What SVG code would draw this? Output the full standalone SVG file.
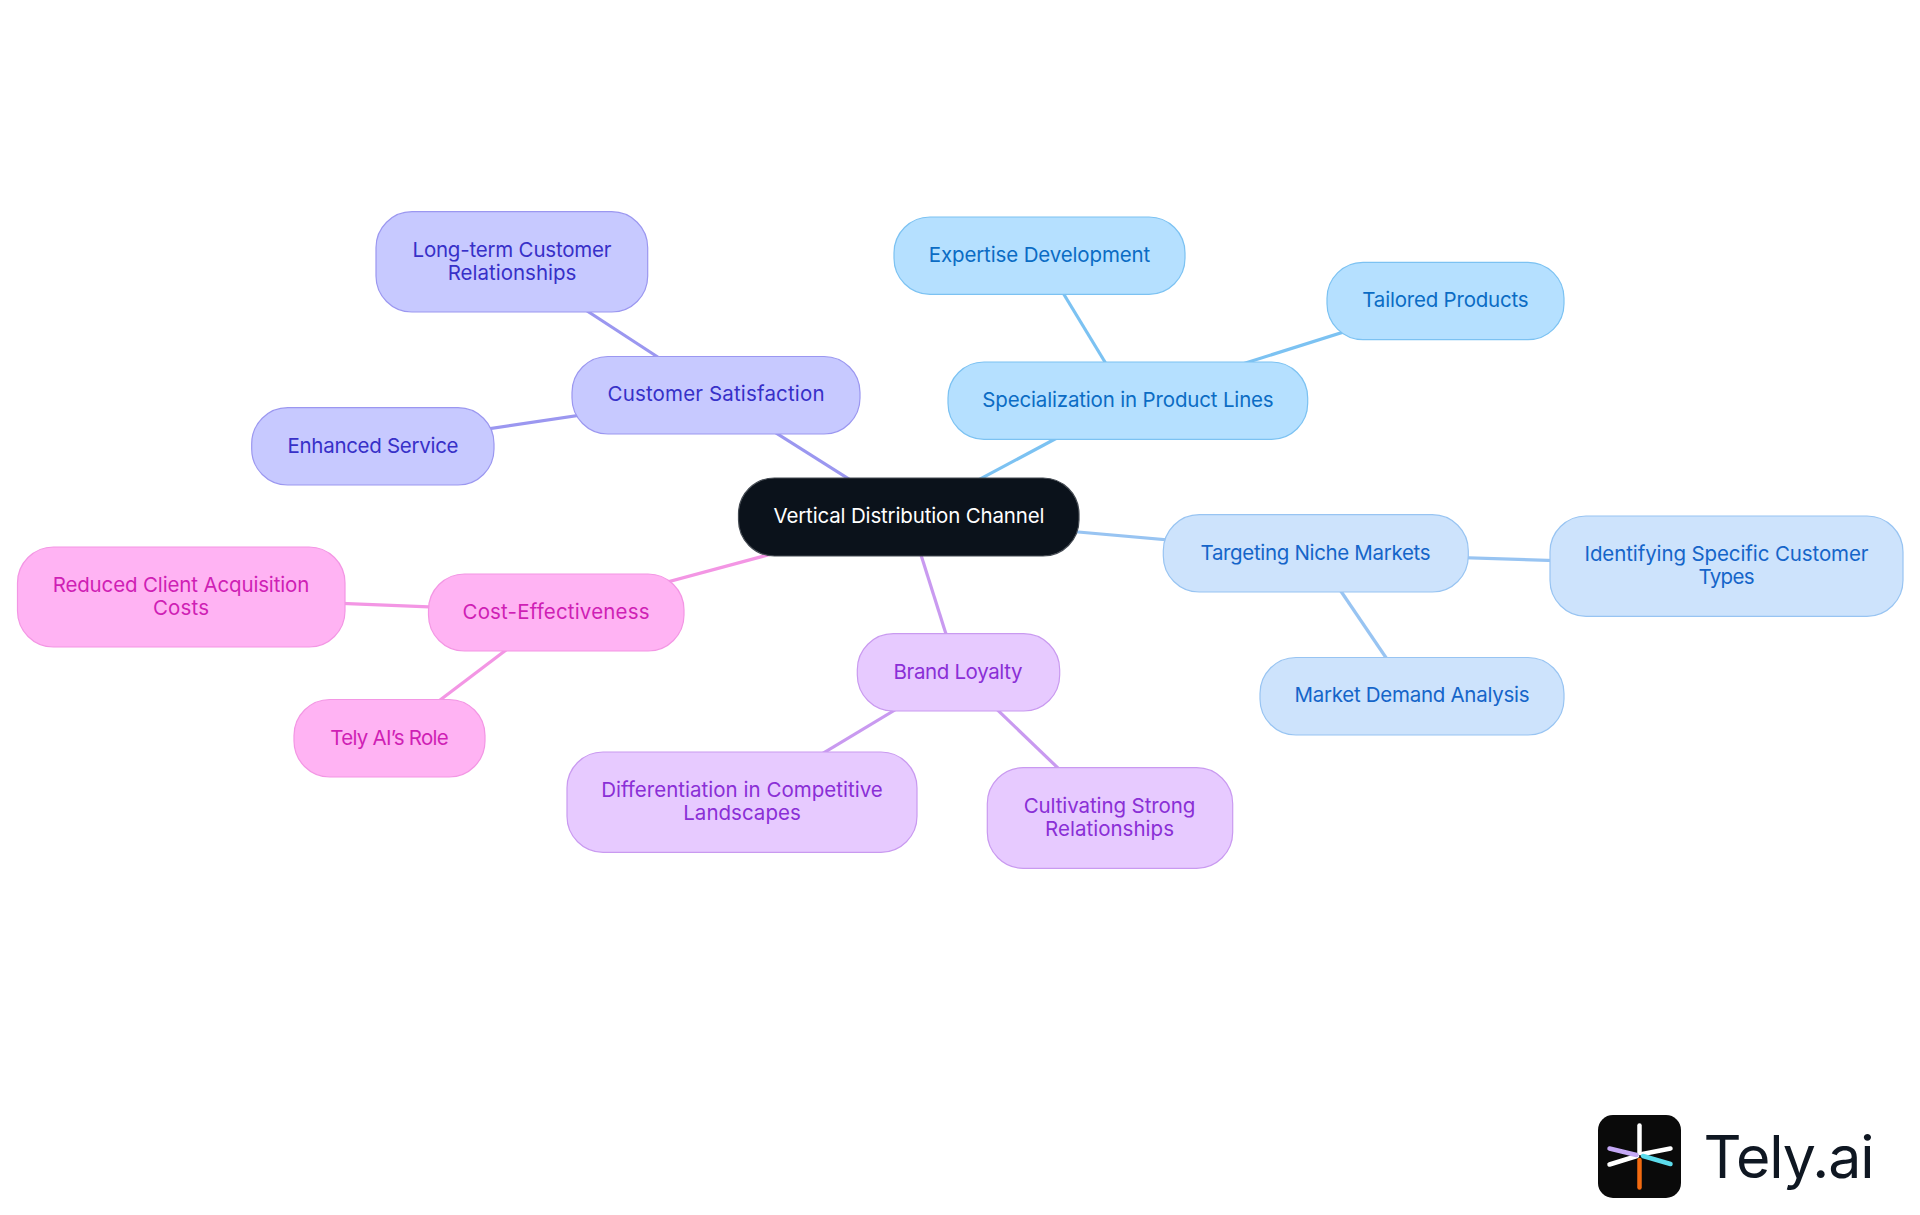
<svg xmlns="http://www.w3.org/2000/svg" width="1920" height="1215" viewBox="0 0 1920 1215">
<style>
text{font-family:"Inter","Open Sans","Liberation Sans",sans-serif;font-size:20.5px;font-weight:400;text-anchor:middle}
.n rect{stroke-width:1.2}
.c line{stroke-width:3.2;fill:none}
.a rect{fill:#c7c9ff;stroke:#9b97f0}.a text{fill:#3730c8}
.b rect{fill:#b5e0ff;stroke:#7cc2f2}.b text{fill:#0b6cc4}
.d rect{fill:#cde3fc;stroke:#98c4f2}.d text{fill:#1565c9}
.e rect{fill:#e7caff;stroke:#c99af0}.e text{fill:#8a2fd6}
.f rect{fill:#ffb3f3;stroke:#f396e4}.f text{fill:#cf1fb5}
</style>
<rect width="1920" height="1215" fill="#ffffff"/>
<g id="connectors" class="c">
<line x1="909" y1="517" x2="716" y2="395" stroke="#9b97f0"/>
<line x1="716" y1="395" x2="512" y2="262" stroke="#9b97f0"/>
<line x1="716" y1="395" x2="373" y2="446" stroke="#9b97f0"/>
<line x1="909" y1="517" x2="1128" y2="400" stroke="#7cc2f2"/>
<line x1="1128" y1="400" x2="1040" y2="255" stroke="#7cc2f2"/>
<line x1="1128" y1="400" x2="1445" y2="300" stroke="#7cc2f2"/>
<line x1="909" y1="517" x2="1315" y2="553" stroke="#98c4f2"/>
<line x1="1315" y1="553" x2="1726" y2="566" stroke="#98c4f2"/>
<line x1="1315" y1="553" x2="1412" y2="696" stroke="#98c4f2"/>
<line x1="909" y1="517" x2="958" y2="672" stroke="#c99af0"/>
<line x1="958" y1="672" x2="742" y2="802" stroke="#c99af0"/>
<line x1="958" y1="672" x2="1110" y2="818" stroke="#c99af0"/>
<line x1="909" y1="517" x2="556" y2="612" stroke="#f396e4"/>
<line x1="556" y1="612" x2="181" y2="597" stroke="#f396e4"/>
<line x1="556" y1="612" x2="390" y2="738" stroke="#f396e4"/>
</g>
<g id="central" class="n"><rect x="738.5" y="478" width="340.5" height="78" rx="36" fill="#0b121b" stroke="#444a52"/><text x="909" y="523" fill="#ffffff" textLength="271">Vertical Distribution Channel</text></g>
<g id="customer-satisfaction" class="n a"><rect x="572" y="356.500" width="288" height="77.500" rx="36"/><text x="716" y="401" textLength="217">Customer Satisfaction</text></g>
<g id="long-term" class="n a"><rect x="376" y="211.700" width="271.700" height="100.300" rx="36"/><text x="512" y="257" textLength="199">Long-term Customer</text><text x="512" y="280" textLength="128.700">Relationships</text></g>
<g id="enhanced-service" class="n a"><rect x="251.700" y="407.700" width="242.300" height="77.300" rx="36"/><text x="373" y="453" textLength="171">Enhanced Service</text></g>
<g id="specialization" class="n b"><rect x="948" y="362" width="359.700" height="77.300" rx="36"/><text x="1128" y="407" textLength="291.400">Specialization in Product Lines</text></g>
<g id="expertise" class="n b"><rect x="894" y="217" width="291" height="77.300" rx="36"/><text x="1039.500" y="262" textLength="221.600">Expertise Development</text></g>
<g id="tailored" class="n b"><rect x="1327" y="262.300" width="237" height="77.400" rx="36"/><text x="1445.500" y="307" textLength="166.300">Tailored Products</text></g>
<g id="targeting" class="n d"><rect x="1163.300" y="514.700" width="305" height="77.300" rx="36"/><text x="1315.500" y="560" textLength="230">Targeting Niche Markets</text></g>
<g id="identifying" class="n d"><rect x="1550" y="516" width="353" height="100.300" rx="36"/><text x="1726.500" y="561" textLength="284">Identifying Specific Customer</text><text x="1726.500" y="584" textLength="56">Types</text></g>
<g id="market-demand" class="n d"><rect x="1260" y="657.500" width="304" height="77.500" rx="36"/><text x="1412" y="702" textLength="235">Market Demand Analysis</text></g>
<g id="brand-loyalty" class="n e"><rect x="857.300" y="633.700" width="202.400" height="77.300" rx="36"/><text x="958" y="679" textLength="129">Brand Loyalty</text></g>
<g id="differentiation" class="n e"><rect x="567" y="752" width="350" height="100.300" rx="36"/><text x="742" y="797" textLength="281.600">Differentiation in Competitive</text><text x="742" y="820" textLength="117.500">Landscapes</text></g>
<g id="cultivating" class="n e"><rect x="987.300" y="767.700" width="245.400" height="100.600" rx="36"/><text x="1109.500" y="813" textLength="171.700">Cultivating Strong</text><text x="1109.500" y="836" textLength="129">Relationships</text></g>
<g id="cost-effectiveness" class="n f"><rect x="428.500" y="574" width="255.500" height="77" rx="36"/><text x="556" y="619" textLength="187">Cost-Effectiveness</text></g>
<g id="reduced-costs" class="n f"><rect x="17.500" y="547" width="327.500" height="100" rx="36"/><text x="181" y="592" textLength="256.700">Reduced Client Acquisition</text><text x="181" y="615" textLength="56">Costs</text></g>
<g id="tely-role" class="n f"><rect x="294" y="699.500" width="191" height="77.500" rx="36"/><text x="389.500" y="745" textLength="118.300">Tely AI’s Role</text></g>
<g id="logo">
<rect x="1598" y="1115" width="83" height="83" rx="15" fill="#0a0a0a"/>
<g fill="none" stroke-width="4.500" stroke-linecap="round">
<line x1="1639.500" y1="1125.500" x2="1639.500" y2="1153" stroke="#ffffff"/>
<line x1="1609.500" y1="1164.500" x2="1637" y2="1156" stroke="#ffffff"/>
<line x1="1642.500" y1="1154" x2="1670.500" y2="1148.500" stroke="#ffffff"/>
<line x1="1609.500" y1="1148.500" x2="1636.500" y2="1155" stroke="#c4a8f5"/>
<line x1="1643" y1="1156" x2="1670.500" y2="1164" stroke="#5cdcec"/>
<line x1="1639.500" y1="1160" x2="1639.500" y2="1187.500" stroke="#f26a10"/>
</g>
<text x="1789" y="1178" fill="#0f1722" style="font-size:59px;font-weight:400" textLength="171">Tely.ai</text>
</g>
</svg>
